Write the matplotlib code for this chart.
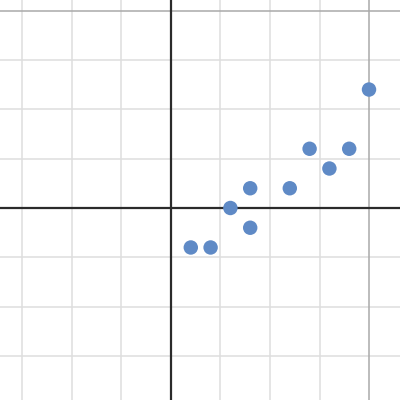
import matplotlib
matplotlib.use('Agg')
import matplotlib.pyplot as plt
import numpy as np

x = [2, 4, 6, 8, 8, 12, 14, 16, 18, 20]
y = [-4, -4, 0, 2, -2, 2, 6, 4, 6, 12]

fig = plt.figure(figsize=(4, 4), dpi=100)
ax = fig.add_axes([0, 0, 1, 1])
ax.set_xlim(-17.27, 23.13)
ax.set_ylim(-19.45, 21.07)

# minor grid every 5, major every 20
for v in np.arange(-15, 25, 5):
    c = '#aaaaaa' if v % 20 == 0 else '#dedede'
    if v != 0:
        ax.axvline(v, color=c, lw=1.1, zorder=0)
        ax.axhline(v, color=c, lw=1.1, zorder=0)
ax.axvline(0, color='#2b2b2b', lw=1.6, zorder=1)
ax.axhline(0, color='#2b2b2b', lw=1.6, zorder=1)

ax.scatter(x, y, s=108, color='#5f8ac6', edgecolors='none', zorder=3)

ax.set_xticks([])
ax.set_yticks([])
for s in ax.spines.values():
    s.set_visible(False)

fig.savefig('out.png', dpi=100)
